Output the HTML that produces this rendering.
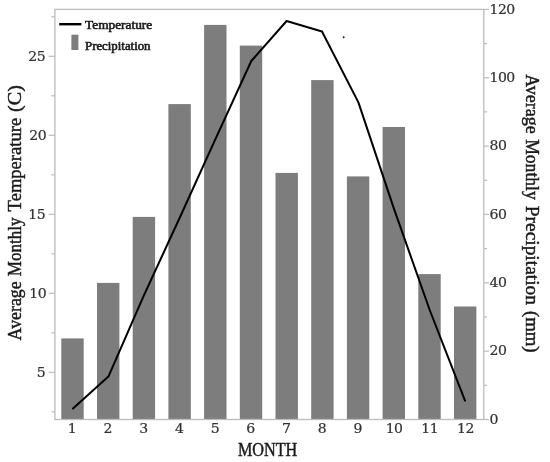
<!DOCTYPE html>
<html><head><meta charset="utf-8"><title>Climate chart</title>
<style>
html,body{margin:0;padding:0;background:#fff}
svg{display:block}
.t{font-family:"DejaVu Serif","Liberation Serif",serif;font-size:12px;fill:#333;stroke:#333;stroke-width:0.2px;letter-spacing:-0.5px}
.a{font-family:"Liberation Serif",serif;fill:#1a1a1a}
</style></head><body>
<svg width="550" height="462" viewBox="0 0 550 462">
<rect width="550" height="462" fill="#fff"/>
<rect x="61.3" y="338.4" width="22.4" height="81.1" fill="#7d7d7d"/>
<rect x="97.0" y="282.9" width="22.4" height="136.6" fill="#7d7d7d"/>
<rect x="132.7" y="216.9" width="22.4" height="202.6" fill="#7d7d7d"/>
<rect x="168.4" y="104.1" width="22.4" height="315.4" fill="#7d7d7d"/>
<rect x="204.1" y="24.9" width="22.4" height="394.6" fill="#7d7d7d"/>
<rect x="239.8" y="45.6" width="22.4" height="373.9" fill="#7d7d7d"/>
<rect x="275.5" y="172.9" width="22.4" height="246.6" fill="#7d7d7d"/>
<rect x="311.2" y="80.1" width="22.4" height="339.4" fill="#7d7d7d"/>
<rect x="346.9" y="176.4" width="22.4" height="243.1" fill="#7d7d7d"/>
<rect x="382.6" y="127.0" width="22.4" height="292.5" fill="#7d7d7d"/>
<rect x="418.3" y="274.1" width="22.4" height="145.4" fill="#7d7d7d"/>
<rect x="454.0" y="306.5" width="22.4" height="113.0" fill="#7d7d7d"/>
<rect x="54.9" y="9.4" width="428.9" height="410.1" fill="none" stroke="#bcbcbc" stroke-width="1.3"/>
<line x1="51.3" y1="411.8" x2="54.9" y2="411.8" stroke="#bcbcbc" stroke-width="1.2"/>
<line x1="48.7" y1="372.3" x2="54.9" y2="372.3" stroke="#bcbcbc" stroke-width="1.2"/>
<text class="t" transform="translate(45.0 377.1) scale(1.17 1)" text-anchor="end">5</text>
<line x1="51.3" y1="332.8" x2="54.9" y2="332.8" stroke="#bcbcbc" stroke-width="1.2"/>
<line x1="48.7" y1="293.3" x2="54.9" y2="293.3" stroke="#bcbcbc" stroke-width="1.2"/>
<text class="t" transform="translate(46.0 298.1) scale(1.17 1)" text-anchor="end">10</text>
<line x1="51.3" y1="253.8" x2="54.9" y2="253.8" stroke="#bcbcbc" stroke-width="1.2"/>
<line x1="48.7" y1="214.3" x2="54.9" y2="214.3" stroke="#bcbcbc" stroke-width="1.2"/>
<text class="t" transform="translate(45.0 219.1) scale(1.17 1)" text-anchor="end">15</text>
<line x1="51.3" y1="174.8" x2="54.9" y2="174.8" stroke="#bcbcbc" stroke-width="1.2"/>
<line x1="48.7" y1="135.3" x2="54.9" y2="135.3" stroke="#bcbcbc" stroke-width="1.2"/>
<text class="t" transform="translate(46.0 140.1) scale(1.17 1)" text-anchor="end">20</text>
<line x1="51.3" y1="95.8" x2="54.9" y2="95.8" stroke="#bcbcbc" stroke-width="1.2"/>
<line x1="48.7" y1="56.3" x2="54.9" y2="56.3" stroke="#bcbcbc" stroke-width="1.2"/>
<text class="t" transform="translate(45.0 61.1) scale(1.17 1)" text-anchor="end">25</text>
<line x1="51.3" y1="16.8" x2="54.9" y2="16.8" stroke="#bcbcbc" stroke-width="1.2"/>
<line x1="483.8" y1="419.5" x2="489.0" y2="419.5" stroke="#bcbcbc" stroke-width="1.2"/>
<text class="t" transform="translate(489.6 423.8) scale(1.17 1)">0</text>
<line x1="483.8" y1="385.3" x2="487.0" y2="385.3" stroke="#bcbcbc" stroke-width="1.2"/>
<line x1="483.8" y1="351.1" x2="489.0" y2="351.1" stroke="#bcbcbc" stroke-width="1.2"/>
<text class="t" transform="translate(489.6 355.4) scale(1.17 1)">20</text>
<line x1="483.8" y1="317.0" x2="487.0" y2="317.0" stroke="#bcbcbc" stroke-width="1.2"/>
<line x1="483.8" y1="282.8" x2="489.0" y2="282.8" stroke="#bcbcbc" stroke-width="1.2"/>
<text class="t" transform="translate(489.6 287.1) scale(1.17 1)">40</text>
<line x1="483.8" y1="248.6" x2="487.0" y2="248.6" stroke="#bcbcbc" stroke-width="1.2"/>
<line x1="483.8" y1="214.4" x2="489.0" y2="214.4" stroke="#bcbcbc" stroke-width="1.2"/>
<text class="t" transform="translate(489.6 218.8) scale(1.17 1)">60</text>
<line x1="483.8" y1="180.3" x2="487.0" y2="180.3" stroke="#bcbcbc" stroke-width="1.2"/>
<line x1="483.8" y1="146.1" x2="489.0" y2="146.1" stroke="#bcbcbc" stroke-width="1.2"/>
<text class="t" transform="translate(489.6 150.4) scale(1.17 1)">80</text>
<line x1="483.8" y1="111.9" x2="487.0" y2="111.9" stroke="#bcbcbc" stroke-width="1.2"/>
<line x1="483.8" y1="77.8" x2="489.0" y2="77.8" stroke="#bcbcbc" stroke-width="1.2"/>
<text class="t" transform="translate(489.6 82.0) scale(1.17 1)">100</text>
<line x1="483.8" y1="43.6" x2="487.0" y2="43.6" stroke="#bcbcbc" stroke-width="1.2"/>
<line x1="483.8" y1="9.4" x2="489.0" y2="9.4" stroke="#bcbcbc" stroke-width="1.2"/>
<text class="t" transform="translate(489.6 13.7) scale(1.17 1)">120</text>
<text class="t" transform="translate(72.0 433.3) scale(1.17 1)" text-anchor="middle">1</text>
<text class="t" transform="translate(107.7 433.3) scale(1.17 1)" text-anchor="middle">2</text>
<text class="t" transform="translate(143.4 433.3) scale(1.17 1)" text-anchor="middle">3</text>
<text class="t" transform="translate(179.1 433.3) scale(1.17 1)" text-anchor="middle">4</text>
<text class="t" transform="translate(214.8 433.3) scale(1.17 1)" text-anchor="middle">5</text>
<text class="t" transform="translate(250.5 433.3) scale(1.17 1)" text-anchor="middle">6</text>
<text class="t" transform="translate(286.2 433.3) scale(1.17 1)" text-anchor="middle">7</text>
<text class="t" transform="translate(321.9 433.3) scale(1.17 1)" text-anchor="middle">8</text>
<text class="t" transform="translate(357.6 433.3) scale(1.17 1)" text-anchor="middle">9</text>
<text class="t" transform="translate(394.0 433.3) scale(1.17 1)" text-anchor="middle">10</text>
<text class="t" transform="translate(429.7 433.3) scale(1.17 1)" text-anchor="middle">11</text>
<text class="t" transform="translate(465.4 433.3) scale(1.17 1)" text-anchor="middle">12</text>
<polyline fill="none" stroke="#000" stroke-width="2.0" stroke-linejoin="round" stroke-linecap="round" points="73.0,408.6 108.4,376.6 143.9,295.4 179.6,218.0 215.3,139.4 251.3,61.0 286.6,21.0 322.0,31.5 358.4,102.4 394.0,208.9 429.7,310.0 465.0,400.6"/>
<circle cx="343.6" cy="37.2" r="1" fill="#222"/>
<line x1="59.2" y1="24.2" x2="81.4" y2="24.2" stroke="#000" stroke-width="2.4"/>
<rect x="71.4" y="34.7" width="7" height="15.3" fill="#7d7d7d"/>
<text class="a" font-size="18.6" stroke="#1a1a1a" stroke-width="0.45" transform="translate(20.60 340.40) rotate(-90) scale(0.9584 1)">Average</text>
<text class="a" font-size="18.6" stroke="#1a1a1a" stroke-width="0.45" transform="translate(20.60 276.23) rotate(-90) scale(0.9156 1)">Monthly</text>
<text class="a" font-size="18.6" stroke="#1a1a1a" stroke-width="0.45" transform="translate(20.60 211.40) rotate(-90) scale(0.9984 1)">Temperature</text>
<text class="a" font-size="18.6" stroke="#1a1a1a" stroke-width="0.45" transform="translate(20.60 111.94) rotate(-90) scale(1.0863 1)">(C)</text>
<text class="a" font-size="18.6" stroke="#1a1a1a" stroke-width="0.45" transform="translate(526.40 74.20) rotate(90) scale(0.9682 1)">Average</text>
<text class="a" font-size="18.6" stroke="#1a1a1a" stroke-width="0.45" transform="translate(526.40 139.16) rotate(90) scale(0.9469 1)">Monthly</text>
<text class="a" font-size="18.6" stroke="#1a1a1a" stroke-width="0.45" transform="translate(526.40 205.74) rotate(90) scale(1.0449 1)">Precipitation</text>
<text class="a" font-size="18.6" stroke="#1a1a1a" stroke-width="0.45" transform="translate(526.40 310.90) rotate(90) scale(1.0087 1)">(mm)</text>
<text class="a" font-size="18.6" stroke="#1a1a1a" stroke-width="0.45" transform="translate(237.88 455.60) scale(0.8726 1)">MONTH</text>
<text class="a" font-size="11.6" stroke="#1a1a1a" stroke-width="0.55" transform="translate(85.00 28.50) scale(1.1502 1)">Temperature</text>
<text class="a" font-size="11.6" stroke="#1a1a1a" stroke-width="0.55" transform="translate(85.00 49.70) scale(1.1072 1)">Precipitation</text>
</svg>
</body></html>
